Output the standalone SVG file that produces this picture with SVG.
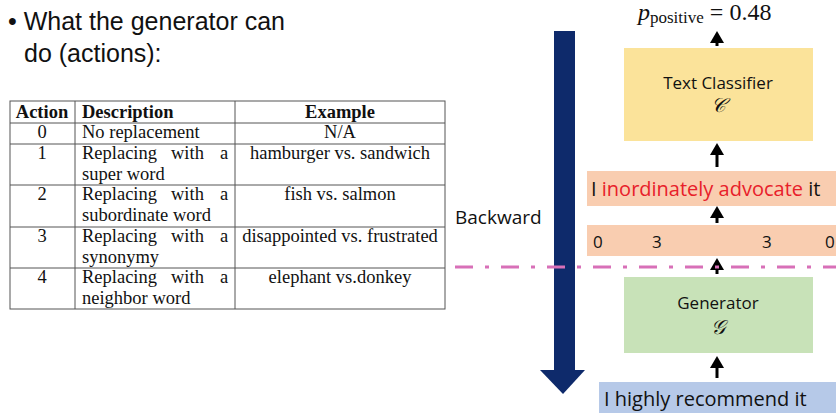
<svg xmlns="http://www.w3.org/2000/svg" width="836" height="413" viewBox="0 0 836 413">
<style>
.s{font-family:"Liberation Sans",Arial,sans-serif;}
.t{font-family:"Liberation Serif","Times New Roman",serif;font-size:18.5px;fill:#111;}
.b{font-weight:bold;}
.c{font-family:"Open Sans","Noto Sans",sans-serif;fill:#111;}
.g{stroke:#555;stroke-width:1;fill:none;}
.ar{fill:#000;}
</style>
<defs>
<path id="arr" d="M-7,12 L0,0 L7,12 Z"/>
</defs>
<rect width="836" height="413" fill="#fff"/>
<g id="title">
<text class="s" x="8" y="30" font-size="25" fill="#111">• What the generator can</text>
<text class="s" x="24" y="62" font-size="25" fill="#111">do (actions):</text>
</g>
<g id="table">
<rect x="10" y="101" width="435" height="208" class="g"/>
<line x1="10" y1="123" x2="445" y2="123" class="g"/>
<line x1="10" y1="144" x2="445" y2="144" class="g"/>
<line x1="10" y1="185" x2="445" y2="185" class="g"/>
<line x1="10" y1="227" x2="445" y2="227" class="g"/>
<line x1="10" y1="268" x2="445" y2="268" class="g"/>
<line x1="75" y1="101" x2="75" y2="309" class="g"/>
<line x1="235" y1="101" x2="235" y2="309" class="g"/>
<text class="t b" x="42" y="118" text-anchor="middle">Action</text>
<text class="t b" x="82" y="118">Description</text>
<text class="t b" x="340" y="118" text-anchor="middle">Example</text>
<text class="t" x="42" y="138" text-anchor="middle">0</text>
<text class="t" x="82" y="138">No replacement</text>
<text class="t" x="340" y="138" text-anchor="middle">N/A</text>
<text class="t" x="42" y="159" text-anchor="middle">1</text>
<text class="t" x="82" y="159">Replacing</text><text class="t" x="171" y="159">with</text><text class="t" x="220" y="159">a</text>
<text class="t" x="82" y="180">super word</text>
<text class="t" x="340" y="159" text-anchor="middle">hamburger vs. sandwich</text>
<text class="t" x="42" y="200" text-anchor="middle">2</text>
<text class="t" x="82" y="200">Replacing</text><text class="t" x="171" y="200">with</text><text class="t" x="220" y="200">a</text>
<text class="t" x="82" y="221">subordinate word</text>
<text class="t" x="340" y="200" text-anchor="middle">fish vs. salmon</text>
<text class="t" x="42" y="242" text-anchor="middle">3</text>
<text class="t" x="82" y="242">Replacing</text><text class="t" x="171" y="242">with</text><text class="t" x="220" y="242">a</text>
<text class="t" x="82" y="263">synonymy</text>
<text class="t" x="340" y="242" text-anchor="middle">disappointed vs. frustrated</text>
<text class="t" x="42" y="283" text-anchor="middle">4</text>
<text class="t" x="82" y="283">Replacing</text><text class="t" x="171" y="283">with</text><text class="t" x="220" y="283">a</text>
<text class="t" x="82" y="304">neighbor word</text>
<text class="t" x="340" y="283" text-anchor="middle">elephant vs.donkey</text>
</g>
<g id="backward">
<rect x="554" y="31" width="21" height="342" fill="#0e2a6b"/>
<path d="M540,370 L585,370 L563,394 Z" fill="#0e2a6b"/>
<text class="c" x="455" y="224" font-size="19">Backward</text>
</g>
<g id="classifier">
<rect x="624" y="48" width="189" height="93" fill="#fbe39a"/>
<text class="c" x="718" y="89" text-anchor="middle" font-size="17">Text Classifier</text>
<text x="718" y="112" text-anchor="middle" font-family="Liberation Serif,serif" font-style="italic" font-size="20" fill="#111">𝒞</text>
</g>
<g id="output">
<text x="638" y="20" font-family="Liberation Serif,serif" font-size="24" fill="#111"><tspan font-style="italic">p</tspan><tspan font-size="17" dy="3">positive</tspan><tspan dy="-3"> = 0.48</tspan></text>
</g>
<g id="adversarial">
<rect x="587" y="171" width="249" height="35" fill="#f9cdb0"/>
<text class="c" x="591" y="196" font-size="20"><tspan>I </tspan><tspan fill="#e8202a">inordinately advocate</tspan><tspan> it</tspan></text>
</g>
<g id="actions">
<rect x="587" y="225" width="249" height="31" fill="#f9cdb0"/>
<text class="c" x="593" y="248" font-size="17">0</text>
<text class="c" x="652" y="248" font-size="17">3</text>
<text class="c" x="762" y="248" font-size="17">3</text>
<text class="c" x="825" y="248" font-size="17">0</text>
</g>
<g id="generator">
<rect x="624" y="277" width="189" height="76" fill="#c8e2b8"/>
<text class="c" x="718" y="309" text-anchor="middle" font-size="17">Generator</text>
<text x="718" y="334" text-anchor="middle" font-family="Liberation Serif,serif" font-style="italic" font-size="20" fill="#111">𝒢</text>
</g>
<g id="input">
<rect x="599" y="382" width="237" height="31" fill="#b6c9e8"/>
<text class="c" x="604" y="406" font-size="20">I highly recommend it</text>
</g>
<g id="connectors">
<g stroke="#000" stroke-width="3">
<line x1="717" y1="46" x2="717" y2="40"/>
<line x1="717" y1="167" x2="717" y2="152"/>
<line x1="717" y1="223" x2="717" y2="215"/>
<line x1="717" y1="274" x2="717" y2="266"/>
<line x1="717" y1="378" x2="717" y2="364"/>
</g>
<use href="#arr" x="717" y="31" class="ar"/>
<use href="#arr" x="717" y="143" class="ar"/>
<use href="#arr" x="717" y="206" class="ar"/>
<use href="#arr" x="717" y="258" class="ar"/>
<use href="#arr" x="717" y="356" class="ar"/>
<line x1="455" y1="267" x2="836" y2="267" stroke="#d870b8" stroke-width="3" stroke-dasharray="18,12,4,12"/>
</g>
</svg>
